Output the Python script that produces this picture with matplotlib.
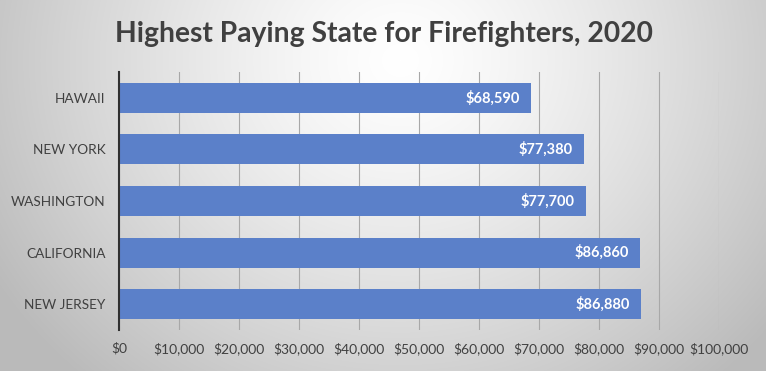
import matplotlib
matplotlib.use("Agg")
import matplotlib.pyplot as plt
import numpy as np
from matplotlib.ticker import FuncFormatter, MultipleLocator

states = ["HAWAII", "NEW YORK", "WASHINGTON", "CALIFORNIA", "NEW JERSEY"]
salaries = [68590, 77380, 77700, 86860, 86880]
title = "Highest Paying State for Firefighters, 2020"

W, H = 766, 371
fig = plt.figure(figsize=(W / 100, H / 100), dpi=100)

# radial gradient background
bg = fig.add_axes([0, 0, 1, 1], zorder=-10)
yy, xx = np.mgrid[0:H, 0:W]
cx, cy = 400, 60
r = np.sqrt(((xx - cx) / 420.0) ** 2 + ((yy - cy) / 380.0) ** 2)
val = 1.0 - 0.23 * np.clip(r, 0, 1.3) ** 1.3
val = np.clip(val, 0.73, 1.0)
bg.imshow(np.dstack([val, val, val]), aspect="auto", extent=[0, 1, 0, 1])
bg.axis("off")

ax = fig.add_axes([119.3 / W, 1 - 330 / H, 600 / W, 258 / H])
ax.patch.set_alpha(0)
y = np.arange(len(states))
ax.barh(y, salaries, height=0.58, color="#5b80c9", zorder=3)
ax.set_ylim(len(states) - 0.5, -0.5)
ax.set_xlim(0, 100000)
ax.xaxis.set_major_locator(MultipleLocator(10000))
ax.xaxis.set_major_formatter(FuncFormatter(lambda v, p: f"${v:,.0f}"))
ax.set_yticks(y)
ax.set_yticklabels(states)
ax.grid(axis="x", color="#a8a8a8", linewidth=0.8, zorder=1)
for s in ["top", "right", "bottom"]:
    ax.spines[s].set_visible(False)
ax.spines["left"].set_color("#303030")
ax.spines["left"].set_linewidth(1.5)
ax.spines["left"].set_zorder(4)
ax.tick_params(axis="both", length=0, labelsize=10, colors="#404040", labelfontfamily="Lato")
ax.tick_params(axis="x", pad=9)
ax.tick_params(axis="y", pad=10, labelsize=9.8)

for yi, v in zip(y, salaries):
    ax.annotate(f"${v:,.0f}", (v, yi), xytext=(-8, 0), textcoords="offset points",
                ha="right", va="center", color="white", fontweight="bold",
                fontsize=10.5, fontfamily="Lato", zorder=5)

fig.text(384 / W, 1 - 34 / H, title, ha="center", va="center", fontsize=20.3,
         fontweight="bold", fontfamily="Lato", color="#404040")

fig.savefig("out.png", dpi=100)
